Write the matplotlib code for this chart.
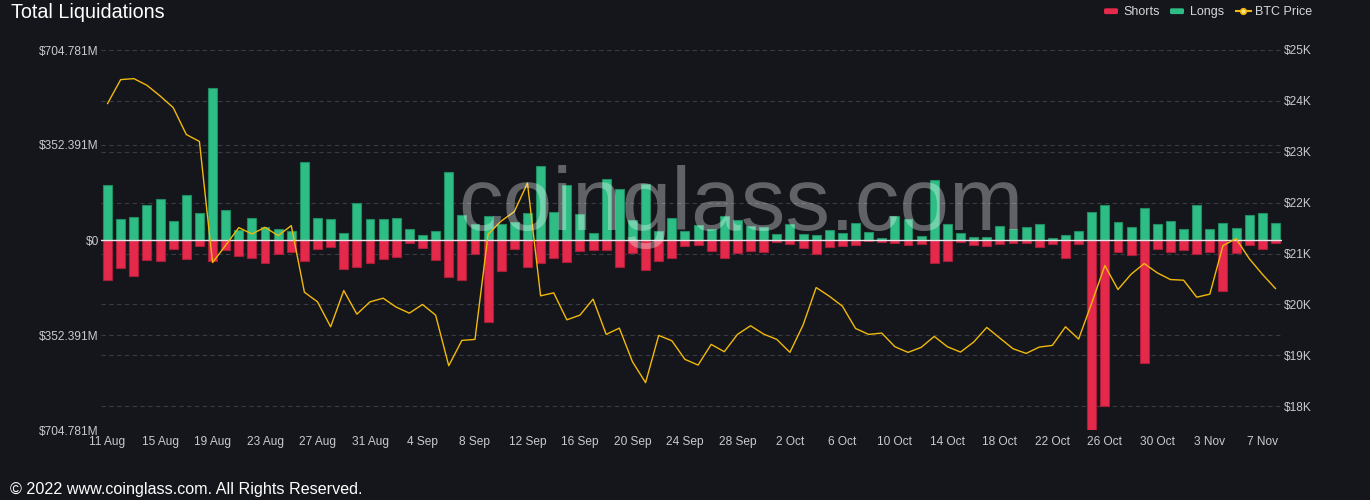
import matplotlib
matplotlib.use("Agg")
import matplotlib.pyplot as plt
import matplotlib.transforms as mtransforms
from matplotlib.patches import FancyBboxPatch
from matplotlib.lines import Line2D
from matplotlib.ticker import FuncFormatter
import pandas as pd

plt.rcParams["font.family"] = ["Liberation Sans", "DejaVu Sans"]

BG = "#15161b"
GREEN = "#2ebd85"
GREEN_EDGE = "#1f8c62"
RED = "#e5294b"
RED_EDGE = "#a81e3a"
GOLD = "#f0b90b"
GRID = "#3a3b42"
TICK = "#c9c9cf"

# daily data, 11 Aug 2022 .. 8 Nov 2022
dates = pd.date_range("2022-08-11", "2022-11-08", freq="D")

# long liquidations, $M
longs = [205, 78, 85, 129, 152, 69, 167, 100, 564, 113, 38, 82, 47, 42, 35,
         289, 83, 79, 27, 136, 79, 78, 83, 40, 20, 33, 251, 91, 58, 89,
         59, 67, 100, 275, 105, 203, 95, 25, 226, 189, 75, 206, 32, 80, 32,
         56, 40, 89, 74, 51, 49, 21, 61, 23, 19, 36, 26, 64, 28, 7,
         90, 78, 15, 221, 61, 26, 12, 12, 51, 42, 48, 58, 9, 17, 32,
         104, 131, 66, 47, 119, 61, 72, 40, 129, 42, 63, 43, 91, 101, 64]

# short liquidations, $M
shorts = [150, 104, 135, 73, 77, 35, 72, 23, 77, 36, 59, 66, 84, 51, 46,
          78, 32, 25, 108, 100, 85, 72, 64, 11, 28, 75, 136, 148, 52, 304,
          115, 35, 101, 87, 68, 83, 42, 38, 38, 101, 47, 110, 77, 67, 23,
          17, 40, 67, 49, 41, 43, 7, 15, 31, 52, 25, 21, 17, 4, 9,
          12, 19, 14, 85, 79, 6, 19, 21, 15, 10, 12, 26, 15, 67, 16,
          704.781, 615, 43, 56, 456, 32, 43, 37, 51, 46, 190, 48, 17, 35, 12]

# BTC close, $
btc = [23948, 24418, 24438, 24307, 24098, 23869, 23340, 23203, 20824, 21163,
       21510, 21386, 21516, 21353, 21549, 20242, 20052, 19562, 20274, 19810,
       20052, 20124, 19948, 19830, 20000, 19791, 18797, 19294, 19314, 21380,
       21640, 21825, 22386, 20170, 20229, 19699, 19791, 20105, 19412, 19536,
       18876, 18464, 19392, 19288, 18922, 18810, 19216, 19072, 19412, 19582,
       19418, 19314, 19059, 19595, 20333, 20163, 19967, 19529, 19412, 19438,
       19170, 19059, 19157, 19373, 19170, 19065, 19261, 19549, 19340, 19131,
       19039, 19163, 19196, 19562, 19320, 20030, 20765, 20294, 20595, 20804,
       20621, 20490, 20477, 20144, 20203, 21157, 21294, 20902, 20595, 20314]

left_ticks = [-704.781, -352.391, 0, 352.391, 704.781]
right_ticks = [18000, 19000, 20000, 21000, 22000, 23000, 24000, 25000]
LEFT_MAX = 704.781
RIGHT_LIM = (17534, 25000)

W, H = 1370, 500
fig = plt.figure(figsize=(W / 100, H / 100), dpi=100)
fig.patch.set_facecolor(BG)

ax = fig.add_axes([101 / W, 70 / H, (1282 - 101) / W, 380 / H])
ax.set_facecolor(BG)
ax2 = ax.twinx()

x = list(range(len(dates)))
neg_shorts = [-v for v in shorts]

ax.bar(x, longs, width=0.68, color=GREEN, edgecolor=GREEN_EDGE, linewidth=0.8, zorder=2)
ax.bar(x, neg_shorts, width=0.68, color=RED, edgecolor=RED_EDGE, linewidth=0.8, zorder=2)
ax.axhline(0, color="#e8e8ec", lw=1.0, zorder=3)

ax2.plot(x, btc, color=GOLD, lw=1.0, zorder=4)

ax.set_xlim(-0.5, len(dates) - 0.5)
ax.set_ylim(-LEFT_MAX, LEFT_MAX)
ax2.set_ylim(*RIGHT_LIM)

# dashed grid for both scales, behind the bars
for v in left_ticks:
    ax.axhline(v, color=GRID, lw=0.8, ls=(0, (4, 3)), zorder=1)
blend = mtransforms.blended_transform_factory(ax.transAxes, ax2.transData)
for v in right_ticks:
    ax.plot([0, 1], [v, v], transform=blend, color=GRID, lw=0.8,
            ls=(0, (4, 3)), zorder=1)

for a in (ax, ax2):
    for s in a.spines.values():
        s.set_visible(False)

ax.set_yticks(left_ticks)
ax.yaxis.set_major_formatter(FuncFormatter(
    lambda v, p: "$0" if abs(v) < 1e-9 else f"${abs(v):.3f}M"))
ax2.set_yticks(right_ticks)
ax2.yaxis.set_major_formatter(FuncFormatter(lambda v, p: f"${v / 1000:.0f}K"))

xt = x[::4]
ax.set_xticks(xt)
ax.set_xticklabels([f"{d.day} {d:%b}" for d in dates[::4]])

ax.tick_params(axis="y", length=0, pad=1.5, labelsize=8.6, labelcolor=TICK)
ax2.tick_params(axis="y", length=0, pad=1.0, labelsize=8.6, labelcolor=TICK)
ax.tick_params(axis="x", length=0, pad=4.5, labelsize=8.6, labelcolor=TICK)

# overlay in pixel coords for title, legend, watermark, footer
ov = fig.add_axes([0, 0, 1, 1], zorder=10)
ov.set_xlim(0, W)
ov.set_ylim(H, 0)
ov.axis("off")
ov.patch.set_alpha(0)

ov.text(11, 18.5, "Total Liquidations", fontsize=14.2, color="white", va="baseline")

ov.text(741, 230, "coinglass.com", fontsize=64.3, color="white", alpha=0.33,
        ha="center", va="baseline")

# legend
ov.add_patch(FancyBboxPatch((1104, 8.3), 14, 5.8, boxstyle="round,pad=0,rounding_size=1.5",
                            facecolor=RED, edgecolor="none"))
ov.text(1123, 15, "Shorts", fontsize=9, color="#d6d6da", va="baseline")
ov.add_patch(FancyBboxPatch((1170, 8.3), 14, 5.8, boxstyle="round,pad=0,rounding_size=1.5",
                            facecolor=GREEN, edgecolor="none"))
ov.text(1190, 15, "Longs", fontsize=9, color="#d6d6da", va="baseline")
ov.add_line(Line2D([1236, 1251], [11.2, 11.2], color=GOLD, lw=1.5))
ov.plot([1243.5], [11.2], marker="o", markersize=4, markerfacecolor="#fbe08a",
        markeredgecolor=GOLD, markeredgewidth=1.2)
ov.text(1255, 15, "BTC Price", fontsize=9, color="#d6d6da", va="baseline")

ov.text(10, 494, "\u00a9 2022 www.coinglass.com. All Rights Reserved.",
        fontsize=11.6, color="white", va="baseline")

fig.savefig("out.png", dpi=100, facecolor=BG)
